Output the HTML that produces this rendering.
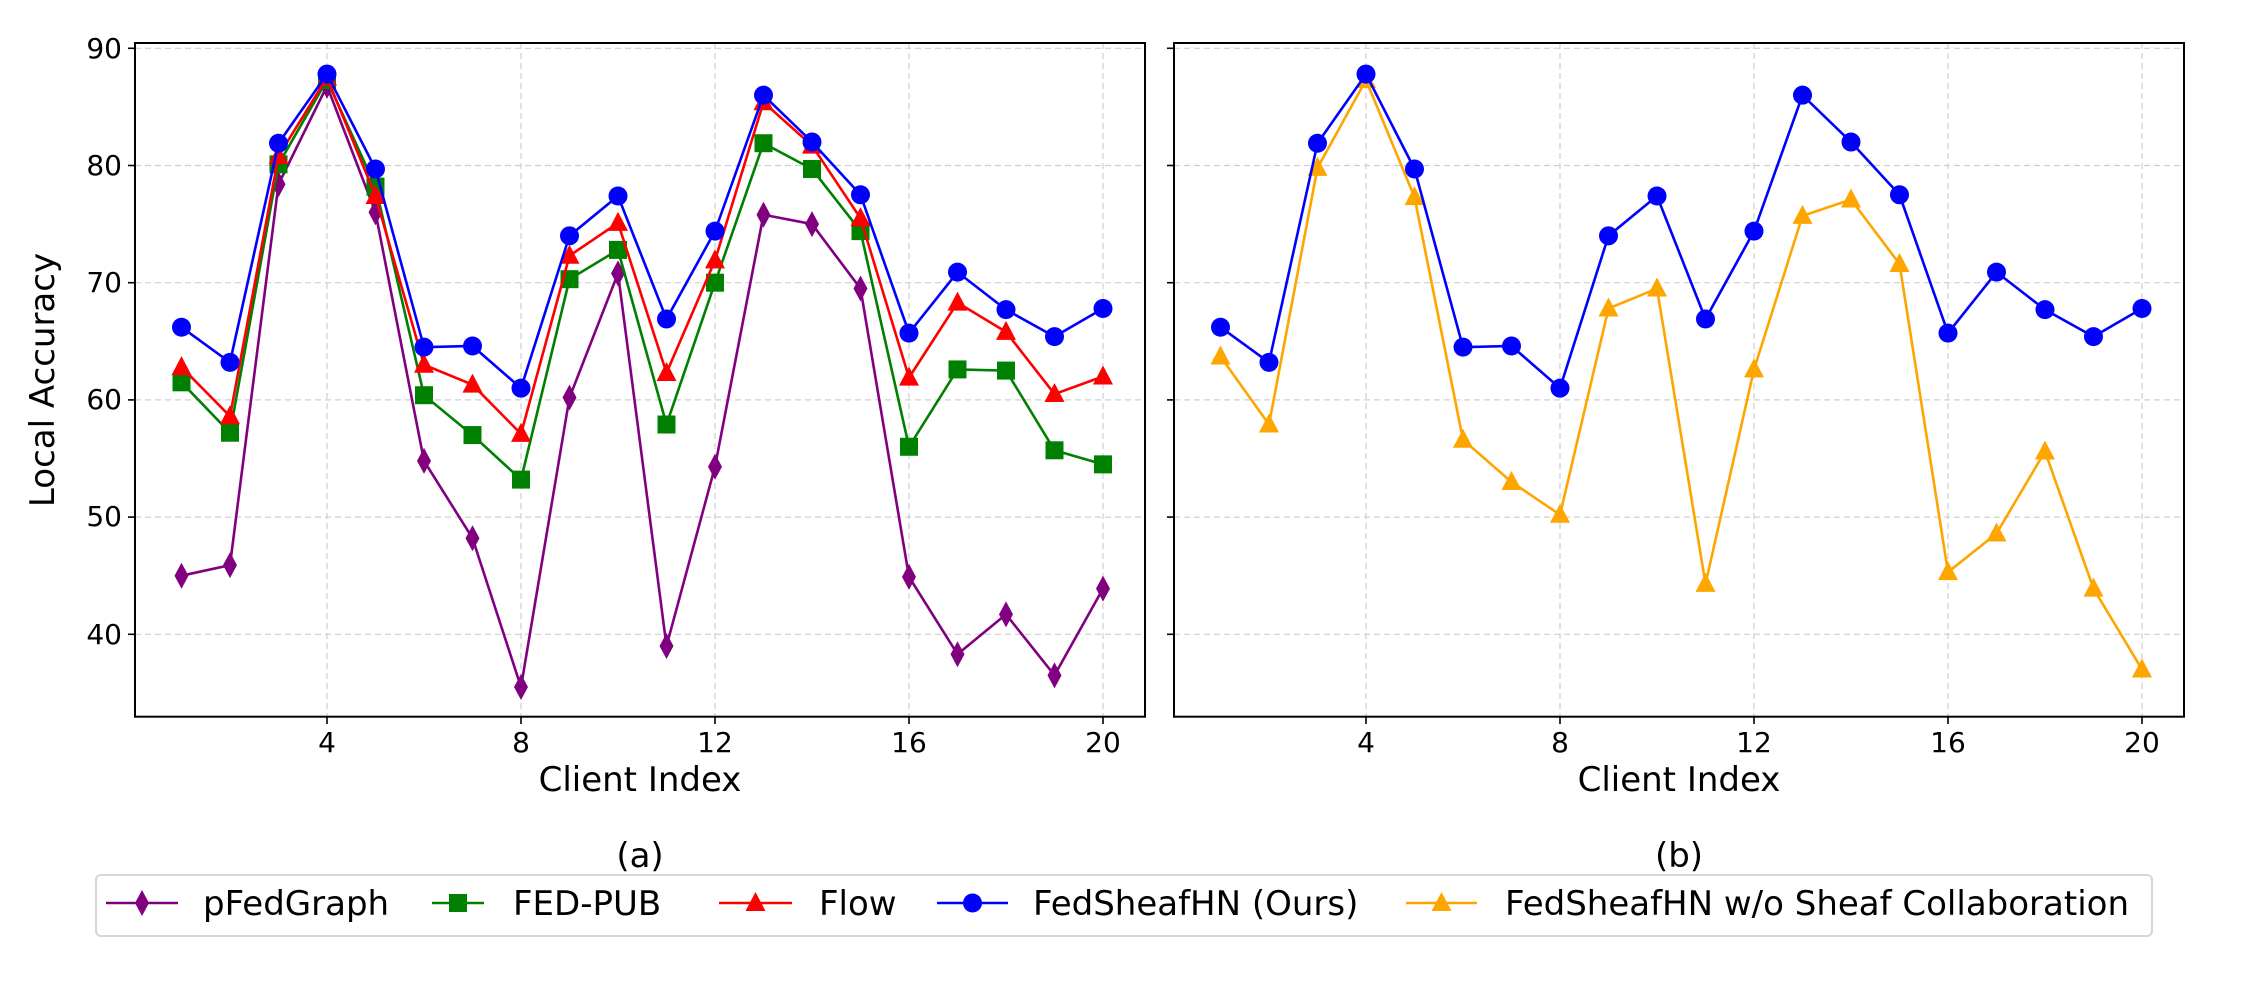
<!DOCTYPE html>
<html><head><meta charset="utf-8"><style>
html,body{margin:0;padding:0;background:#fff;}
svg{display:block;}
text{font-family:"DejaVu Sans","Liberation Sans",sans-serif;fill:#000;}
</style></head><body>
<svg id="s" width="2255" height="985" viewBox="0 0 2255 985" xmlns="http://www.w3.org/2000/svg">
<g id="grid" stroke="#cfcfcf" stroke-width="1.2" stroke-dasharray="6,4" fill="none"></g>
<g id="series"></g>
<rect x="135" y="43" width="1010" height="673.7" fill="none" stroke="#000" stroke-width="2"/>
<rect x="1174" y="43" width="1010" height="673.7" fill="none" stroke="#000" stroke-width="2"/>
<g id="ticks" stroke="#000" stroke-width="1.6"></g>
<g font-size="28" text-anchor="end">
<text x="122" y="58">90</text>
<text x="122" y="175">80</text>
<text x="122" y="292">70</text>
<text x="122" y="409">60</text>
<text x="122" y="526">50</text>
<text x="122" y="644">40</text>
</g>
<g font-size="28" text-anchor="middle">
<text x="327" y="752">4</text><text x="521" y="752">8</text><text x="715" y="752">12</text><text x="909" y="752">16</text><text x="1103" y="752">20</text>
<text x="1366" y="752">4</text><text x="1560" y="752">8</text><text x="1754" y="752">12</text><text x="1948" y="752">16</text><text x="2142" y="752">20</text>
</g>
<g font-size="34" text-anchor="middle">
<text x="640" y="791">Client Index</text>
<text x="1679" y="791">Client Index</text>
<text x="640" y="867">(a)</text>
<text x="1679" y="867">(b)</text>
<text transform="translate(54,380) rotate(-90)">Local Accuracy</text>
</g>
<rect x="96" y="875" width="2056" height="61" rx="5" fill="#fff" stroke="#d6d6d6" stroke-width="2"/>
<g id="legend"></g>
<g font-size="34">
<text x="203" y="915">pFedGraph</text>
<text x="513" y="915">FED-PUB</text>
<text x="819" y="915">Flow</text>
<text x="1033" y="915">FedSheafHN (Ours)</text>
<text x="1505" y="915">FedSheafHN w/o Sheaf Collaboration</text>
</g>
</svg>
<script>
const NS="http://www.w3.org/2000/svg";
function el(p,t,a){const e=document.createElementNS(NS,t);for(const k in a)e.setAttribute(k,a[k]);p.appendChild(e);return e;}
const Y=v=>48.3+(90-v)*11.72;
const XL=i=>327+(i-4)*48.5, XR=i=>1366+(i-4)*48.5;
const g=document.getElementById('grid'),tk=document.getElementById('ticks');
for(const X of [XL,XR]){for(const i of [4,8,12,16,20]){el(g,'line',{x1:X(i),x2:X(i),y1:43,y2:716.7});el(tk,'line',{x1:X(i),x2:X(i),y1:716.7,y2:724});}}
for(const v of [40,50,60,70,80,90]){el(g,'line',{x1:135,x2:1145,y1:Y(v),y2:Y(v)});el(g,'line',{x1:1174,x2:2184,y1:Y(v),y2:Y(v)});
el(tk,'line',{x1:128,x2:135,y1:Y(v),y2:Y(v)});el(tk,'line',{x1:1167,x2:1174,y1:Y(v),y2:Y(v)});}
const D={
blue:[66.2,63.2,81.9,87.8,79.7,64.5,64.6,61.0,74.0,77.4,66.9,74.4,86.0,82.0,77.5,65.7,70.9,67.7,65.4,67.8],
red:[62.8,58.6,80.8,87.5,77.4,63.0,61.3,57.1,72.3,75.1,62.3,71.9,85.4,81.7,75.5,61.9,68.3,65.8,60.5,62.0],
green:[61.5,57.2,80.1,87.3,78.2,60.4,57.0,53.2,70.3,72.8,57.9,70.0,81.9,79.7,74.4,56.0,62.6,62.5,55.7,54.5],
purple:[45.0,45.9,78.4,86.8,76.0,54.8,48.2,35.5,60.2,70.8,39.0,54.3,75.8,75.0,69.5,44.9,38.3,41.7,36.5,43.9],
orange:[63.7,57.9,79.8,87.3,77.3,56.6,53.0,50.2,67.8,69.5,44.3,62.6,75.7,77.1,71.6,45.3,48.6,55.6,43.9,37.0]};
const C={blue:'#0000ff',red:'#ff0000',green:'#008000',purple:'#800080',orange:'#ffa500'};
const M={blue:'o',red:'^',green:'s',purple:'d',orange:'^'};
function marker(p,m,x,y,c){
 if(m==='o')el(p,'circle',{cx:x,cy:y,r:9.5,fill:c});
 else if(m==='s')el(p,'rect',{x:x-9,y:y-9,width:18,height:18,fill:c});
 else if(m==='^')el(p,'polygon',{points:`${x},${y-11} ${x+10},${y+8} ${x-10},${y+8}`,fill:c});
 else el(p,'polygon',{points:`${x},${y-13} ${x+7},${y} ${x},${y+13} ${x-7},${y}`,fill:c});}
const S=document.getElementById('series');
function draw(name,X){const pts=D[name].map((v,i)=>[X(i+1),Y(v)]);
 el(S,'polyline',{points:pts.map(p=>p.join(',')).join(' '),fill:'none',stroke:C[name],'stroke-width':2.6});
 pts.forEach(p=>marker(S,M[name],p[0],p[1],C[name]));}
['purple','green','red','blue'].forEach(n=>draw(n,XL));
['orange','blue'].forEach(n=>draw(n,XR));
const L=document.getElementById('legend');
[['purple',106,178],['green',432,484],['red',719,792],['blue',937,1008],['orange',1406,1477]].forEach(([n,a,b])=>{
 el(L,'line',{x1:a,x2:b,y1:903,y2:903,stroke:C[n],'stroke-width':2.6});marker(L,M[n],(a+b)/2,903,C[n]);});
</script>
</body></html>
